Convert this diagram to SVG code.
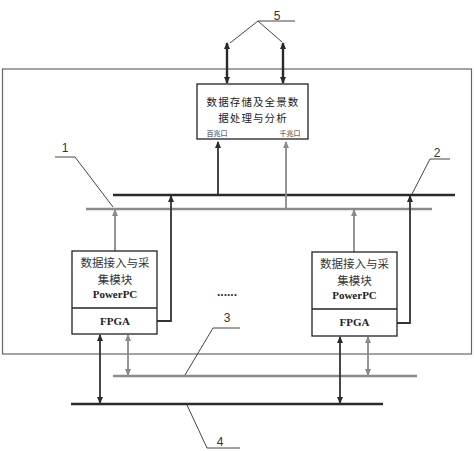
<svg xmlns="http://www.w3.org/2000/svg" width="474" height="451" viewBox="0 0 474 451">
<style>
.bg{fill:#fff}
.frame{fill:none;stroke:#666;stroke-width:1.2}
.box{fill:#fff;stroke:#222;stroke-width:1.3}
.dk{stroke:#2a2a2a;stroke-width:2.4;fill:none}
.gr{stroke:#8a8a8a;stroke-width:2.4;fill:none}
.dkl{stroke:#333;stroke-width:1.8;fill:none}
.grl{stroke:#8a8a8a;stroke-width:1.8;fill:none}
.lead{stroke:#444;stroke-width:1;fill:none}
.cn{font-family:"Noto Sans CJK SC",sans-serif;font-size:11.5px;fill:#333;text-anchor:middle}
.cnb{font-family:"Noto Sans CJK SC",sans-serif;font-size:10.5px;letter-spacing:1.1px;fill:#222;text-anchor:middle}
.small{font-family:"Noto Sans CJK SC",sans-serif;font-size:7px;fill:#333;text-anchor:middle}
.en{font-family:"Liberation Serif",serif;font-size:11px;font-weight:bold;fill:#222;text-anchor:middle}
.num{font-family:"Liberation Sans",sans-serif;font-size:12px;fill:#333;text-anchor:middle}
</style>
<defs>
<marker id="ad" markerWidth="7" markerHeight="7" refX="6" refY="3.5" orient="auto" markerUnits="userSpaceOnUse"><path d="M0,0.5 L7,3.5 L0,6.5 Z" fill="#2a2a2a"/></marker>
<marker id="ag" markerWidth="7" markerHeight="7" refX="6" refY="3.5" orient="auto" markerUnits="userSpaceOnUse"><path d="M0,0.5 L7,3.5 L0,6.5 Z" fill="#8a8a8a"/></marker>
<marker id="ads" markerWidth="7" markerHeight="7" refX="6" refY="3.5" orient="auto-start-reverse" markerUnits="userSpaceOnUse"><path d="M0,0.5 L7,3.5 L0,6.5 Z" fill="#2a2a2a"/></marker>
<marker id="ags" markerWidth="7" markerHeight="7" refX="6" refY="3.5" orient="auto-start-reverse" markerUnits="userSpaceOnUse"><path d="M0,0.5 L7,3.5 L0,6.5 Z" fill="#8a8a8a"/></marker>
</defs>
<rect class="bg" x="0" y="0" width="474" height="451"/>
<rect class="frame" x="2.5" y="69" width="469" height="285"/>

<g id="connectors">
  <!-- external arrows (5) -->
  <line class="dk" x1="227" y1="83" x2="227" y2="43" marker-start="url(#ads)" marker-end="url(#ads)"/>
  <line class="dk" x1="283" y1="83" x2="283" y2="43" marker-start="url(#ads)" marker-end="url(#ads)"/>
  <!-- buses -->
  <line class="dk" x1="113" y1="195" x2="455" y2="195"/>
  <line class="gr" x1="86" y1="209" x2="432" y2="209"/>
  <line class="gr" x1="113" y1="376" x2="417" y2="376"/>
  <line class="dk" x1="71" y1="404" x2="383" y2="404"/>
  <!-- buses to central box -->
  <line class="dkl" x1="218" y1="195" x2="218" y2="142" marker-end="url(#ad)"/>
  <line class="grl" x1="286" y1="209" x2="286" y2="142" marker-end="url(#ag)"/>
  <!-- left module up -->
  <line class="grl" x1="115" y1="251" x2="115" y2="210" marker-end="url(#ag)"/>
  <polyline class="dkl" points="157,321 171,321 171,196" marker-end="url(#ad)"/>
  <!-- right module up -->
  <line class="grl" x1="354" y1="252" x2="354" y2="210" marker-end="url(#ag)"/>
  <polyline class="dkl" points="397,323 410,323 410,196" marker-end="url(#ad)"/>
  <!-- left module down -->
  <line class="dkl" x1="100" y1="335" x2="100" y2="403" marker-start="url(#ads)" marker-end="url(#ads)"/>
  <line class="grl" x1="128" y1="335" x2="128" y2="375" marker-start="url(#ags)" marker-end="url(#ags)"/>
  <!-- right module down -->
  <line class="dkl" x1="340" y1="337" x2="340" y2="403" marker-start="url(#ads)" marker-end="url(#ads)"/>
  <line class="grl" x1="368" y1="337" x2="368" y2="375" marker-start="url(#ags)" marker-end="url(#ags)"/>
</g>

<g id="center">
  <rect class="box" x="197" y="84" width="111" height="55"/>
  <text class="cnb" x="253" y="106">数据存储及全景数</text>
  <text class="cnb" x="253" y="122">据处理与分析</text>
  <text class="small" x="217" y="136">百兆口</text>
  <text class="small" x="290" y="136">千兆口</text>
</g>

<g id="module-left">
  <rect class="box" x="72" y="251" width="85" height="83"/>
  <line class="box" x1="72" y1="308" x2="157" y2="308"/>
  <text class="cn" x="115" y="267">数据接入与采</text>
  <text class="cn" x="115" y="284">集模块</text>
  <text class="en" x="115" y="298">PowerPC</text>
  <text class="en" x="115" y="325">FPGA</text>
</g>

<g id="module-right">
  <rect class="box" x="312" y="252" width="85" height="84"/>
  <line class="box" x1="312" y1="309" x2="397" y2="309"/>
  <text class="cn" x="354.5" y="268">数据接入与采</text>
  <text class="cn" x="354.5" y="285">集模块</text>
  <text class="en" x="354.5" y="299">PowerPC</text>
  <text class="en" x="354.5" y="326">FPGA</text>
</g>

<g id="ellipsis">
  <text class="num" x="227" y="296" style="font-weight:bold">......</text>
</g>

<g id="labels">
  <text class="num" x="277" y="20">5</text>
  <polyline class="lead" points="295,21 258,21 230,43"/>
  <line class="lead" x1="258" y1="21" x2="282" y2="42"/>
  <text class="num" x="65" y="152">1</text>
  <polyline class="lead" points="55,157 75,157 113,207"/>
  <text class="num" x="437" y="157">2</text>
  <polyline class="lead" points="450,159 430,159 412,194"/>
  <text class="num" x="227" y="322">3</text>
  <polyline class="lead" points="240,328 213,328 185,375"/>
  <text class="num" x="220" y="446">4</text>
  <polyline class="lead" points="187,405 207,448 240,448"/>
</g>
</svg>
